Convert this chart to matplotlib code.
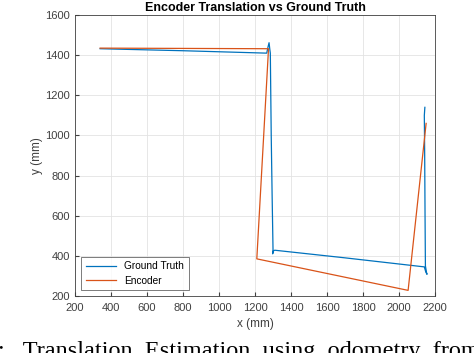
import matplotlib.pyplot as plt

plt.rcParams["font.family"] = ["Liberation Sans", "DejaVu Sans"]

# Ground truth path (mm)
gt_x = [340, 800, 1265, 1272, 1278, 1282, 1285, 1290, 1295, 1300, 1298, 1302,
        1310, 1700, 2140, 2148, 2155, 2152, 2146, 2144, 2142, 2140, 2143]
gt_y = [1432, 1422, 1410, 1440, 1462, 1430, 1410, 1000, 700, 430, 410, 425,
        428, 390, 345, 320, 308, 318, 350, 600, 900, 1100, 1140]

# Encoder path (mm)
enc_x = [340, 1275, 1210, 2050, 2150]
enc_y = [1435, 1432, 385, 228, 1060]

fig = plt.figure(figsize=(4.74, 3.53), dpi=100)
ax = fig.add_axes([0.158, 0.1615, 0.76, 0.796])

ax.plot(gt_x, gt_y, color=(0.0, 0.447, 0.741), lw=0.9, label="Ground Truth")
ax.plot(enc_x, enc_y, color=(0.85, 0.325, 0.098), lw=0.9, label="Encoder")

ax.set_xlim(200, 2200)
ax.set_ylim(200, 1600)
ax.set_xticks(range(200, 2201, 200))
ax.set_yticks(range(200, 1601, 200))
ax.tick_params(direction="in", labelsize=8, colors="#404040", length=3)
ax.tick_params(axis="x", pad=5)
ax.grid(True, color="#e3e3e3", lw=0.6)
ax.set_axisbelow(True)
for s in ax.spines.values():
    s.set_color("#404040")
    s.set_linewidth(0.6)

ax.set_xlabel("x (mm)", fontsize=8.5, color="#404040", labelpad=4)
ax.set_ylabel("y (mm)", fontsize=8.5, color="#404040", labelpad=2)
ax.set_title("Encoder Translation vs Ground Truth", fontsize=9, fontweight="bold",
             pad=3)

leg = ax.legend(loc="lower left", bbox_to_anchor=(0.018, 0.02), fontsize=7.3,
                frameon=True, fancybox=False, edgecolor="#404040",
                handlelength=3.0, borderpad=0.45, labelspacing=0.45,
                borderaxespad=0)
leg.get_frame().set_linewidth(0.6)

# caption fragment, cut off by the image edge as in the source
fig.text(-0.004, -0.011, ":   Translation  Estimation  using  odometry  from",
         fontsize=17.5, family="Liberation Serif", ha="left", va="baseline")

fig.savefig("out.png", dpi=100)
